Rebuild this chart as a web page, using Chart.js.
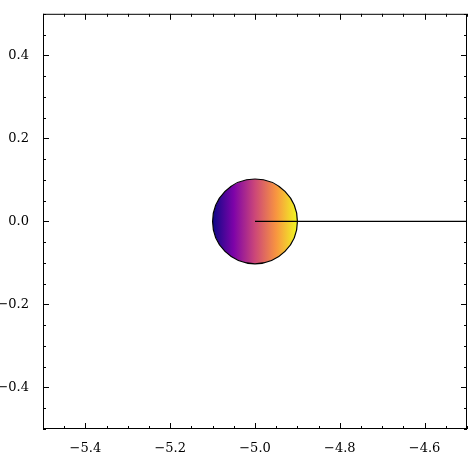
<!DOCTYPE html>
<html><head><meta charset="utf-8">
<script src="https://cdn.jsdelivr.net/npm/chart.js@4"></script>
<style>html,body{margin:0;padding:0;background:#fff}#w{width:474px;height:453px}</style>
</head><body><div id="w"><canvas id="c"></canvas></div>
<script>
const xTicks=[-5.4,-5.2,-5.0,-4.8,-4.6];
const yTicks=[-0.4,-0.2,0.0,0.2,0.4];
const xRange=[-5.5,-4.5];
const yRange=[-0.5,0.5];
const circleCenter=[-5.0,0.0];
const circleRadius=0.1;
const lineX=[-5.0,-4.5];
const lineY=[0.0,0.0];
const plasma=['#0d0887','#7e03a8','#cc4778','#f89540','#f0f921'];
const fmt=v=>v.toFixed(1).replace('-','\u2212');
const F="'DejaVu Serif'";
const deco={id:'deco',
 beforeDatasetsDraw(ch){const c=ch.ctx,x=ch.scales.x,y=ch.scales.y;
  const cx=x.getPixelForValue(circleCenter[0]),cy=y.getPixelForValue(circleCenter[1]);
  const rx=x.getPixelForValue(circleCenter[0]+circleRadius)-cx;
  const g=c.createLinearGradient(cx-rx,0,cx+rx,0);
  plasma.forEach((col,i)=>g.addColorStop(i/(plasma.length-1),col));
  c.save();c.beginPath();c.arc(cx,cy,rx,0,Math.PI*2);c.fillStyle=g;c.fill();
  c.lineWidth=1.2;c.strokeStyle='#000';c.stroke();c.restore();},
 afterDraw(ch){const c=ch.ctx,a=ch.chartArea,x=ch.scales.x,y=ch.scales.y;
  c.save();c.strokeStyle='#000';c.lineWidth=1;
  c.strokeRect(a.left+0.5,a.top+0.5,a.right-a.left-1,a.bottom-a.top-1);
  c.beginPath();
  for(let i=0;i<=20;i++){const v=xRange[0]+i*0.05;const p=Math.round(x.getPixelForValue(v))+0.5;
   const L=(Math.round(v*100)%20===0&&Math.abs(v-xRange[0])>1e-6)?6:3;
   c.moveTo(p,a.bottom);c.lineTo(p,a.bottom-L);c.moveTo(p,a.top);c.lineTo(p,a.top+L);}
  for(let i=0;i<=20;i++){const v=yRange[0]+i*0.05;const p=Math.round(y.getPixelForValue(v))+0.5;
   const L=(Math.abs(Math.round(v*100))%20===0&&Math.abs(Math.abs(v)-0.5)>1e-6)?6:3;
   c.moveTo(a.left,p);c.lineTo(a.left+L,p);c.moveTo(a.right,p);c.lineTo(a.right-L,p);}
  c.stroke();c.restore();}};
new Chart(document.getElementById('c'),{type:'scatter',
 data:{datasets:[{data:lineX.map((v,i)=>({x:v,y:lineY[i]})),showLine:true,borderColor:'#000',borderWidth:1.2,pointRadius:0}]},
 options:{responsive:true,maintainAspectRatio:false,animation:false,
  layout:{padding:{top:7,right:7,left:0,bottom:0}},
  plugins:{legend:{display:false},tooltip:{enabled:false}},
  scales:{
   x:{min:xRange[0],max:xRange[1],afterBuildTicks:s=>{s.ticks=xTicks.map(v=>({value:v}))},
    afterFit:s=>{s.height=24},grid:{display:false},border:{display:false},
    ticks:{callback:v=>fmt(v),color:'#000',font:{family:F,size:13},padding:4,maxRotation:0}},
   y:{min:yRange[0],max:yRange[1],afterBuildTicks:s=>{s.ticks=yTicks.map(v=>({value:v}))},
    afterFit:s=>{s.width=43},grid:{display:false},border:{display:false},
    ticks:{callback:v=>fmt(v),color:'#000',font:{family:F,size:13},padding:6}}}},
 plugins:[deco]});
</script></body></html>
